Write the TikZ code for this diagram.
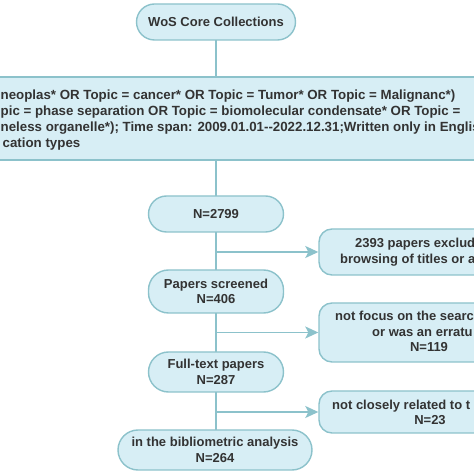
\documentclass[tikz,border=0pt]{standalone}
\usepackage{fontspec}
\setmainfont{Liberation Sans}
\usetikzlibrary{arrows.meta,positioning}
\definecolor{boxfill}{HTML}{D7EEF5}
\definecolor{boxline}{HTML}{8CC2CB}
\definecolor{txt}{HTML}{333333}

\begin{document}
\begin{tikzpicture}[x=1pt,y=1pt,
    stage/.style={draw=boxline, fill=boxfill, line width=1.4pt, text=txt,
        font=\bfseries\fontsize{13}{15.5}\selectfont, align=center, inner sep=0pt},
    cuttext/.style={text=txt, font=\bfseries\fontsize{13}{15.5}\selectfont, inner sep=0pt, anchor=base west},
    flow/.style={draw=boxline, line width=1.5pt},
    flowarrow/.style={flow, -{Stealth[length=13pt,width=12pt,inset=3pt]}}]
    \useasboundingbox (0,0) rectangle (474,474);
    \clip (0,0) rectangle (474,474);

    % connectors first, boxes on top
    \coordinate (spine) at (216,0);
    \draw[flow] (spine |- 0,452) -- (spine |- 0,397);
    \draw[flow] (spine |- 0,314) -- (spine |- 0,24);

    % main column
    \node[stage, rounded corners=18pt, minimum width=159pt, minimum height=36pt] (wos) at (216,452) {WoS Core Collections};
    \node[stage, minimum width=520pt, minimum height=83pt] (query) at (237,355.5) {};
    \node[cuttext, anchor=base west, align=left, font=\bfseries\fontsize{13.3}{16}\selectfont] (querytext) at (0.5,326)
        {neoplas* OR Topic = cancer* OR Topic = Tumor* OR Topic = Malignanc*)\\
         pic = phase separation OR Topic = biomolecular condensate* OR Topic =\\
         neless organelle*); Time span: 2009.01.01-{}-2022.12.31;Written only in Englis\\
         \hspace{2pt}cation types};
    \node[stage, rounded corners=18pt, minimum width=135pt, minimum height=36pt] (total) at (216,260) {N=2799};
    \node[stage, rounded corners=20pt, minimum width=135pt, minimum height=43pt] (screened) at (216,182.5) {Papers screened\\N=406};
    \node[stage, rounded corners=20pt, minimum width=135pt, minimum height=40pt] (fulltext) at (216,102) {Full-text papers\\N=287};
    \node[stage, rounded corners=20pt, minimum width=194pt, minimum height=40pt] (final) at (215,24) {in the bibliometric analysis\\N=264};

    % exclusions
    \node[stage, rounded corners=13pt, minimum width=220pt, minimum height=46pt] (exclA) at (429,222) {};
    \node[stage, rounded corners=13pt, minimum width=220pt, minimum height=59pt] (exclB) at (429,141.5) {};
    \node[stage, rounded corners=13pt, minimum width=220pt, minimum height=42pt] (exclC) at (429,62) {};

    \node[cuttext] (exclAone) at (355,226.5) {2393 papers exclud};
    \node[cuttext] (exclAtwo) at (340,210.5) {browsing of titles or a};
    \node[cuttext] (exclBone) at (335,153.5) {not focus on the searc};
    \node[cuttext] (exclBtwo) at (372,137.5) {or was an erratu};
    \node[cuttext, anchor=base] (exclBthree) at (429,122.5) {N=119};
    \node[cuttext] (exclCone) at (332,64.5) {not closely related to t};
    \node[cuttext, anchor=base] (exclCtwo) at (430,49.5) {N=23};

    \draw[flowarrow] (total.south |- exclA.west) -- (exclA.west);
    \draw[flowarrow] (total.south |- exclB.west) -- (exclB.west);
    \draw[flowarrow] (total.south |- exclC.west) -- (exclC.west);
\end{tikzpicture}
\end{document}
